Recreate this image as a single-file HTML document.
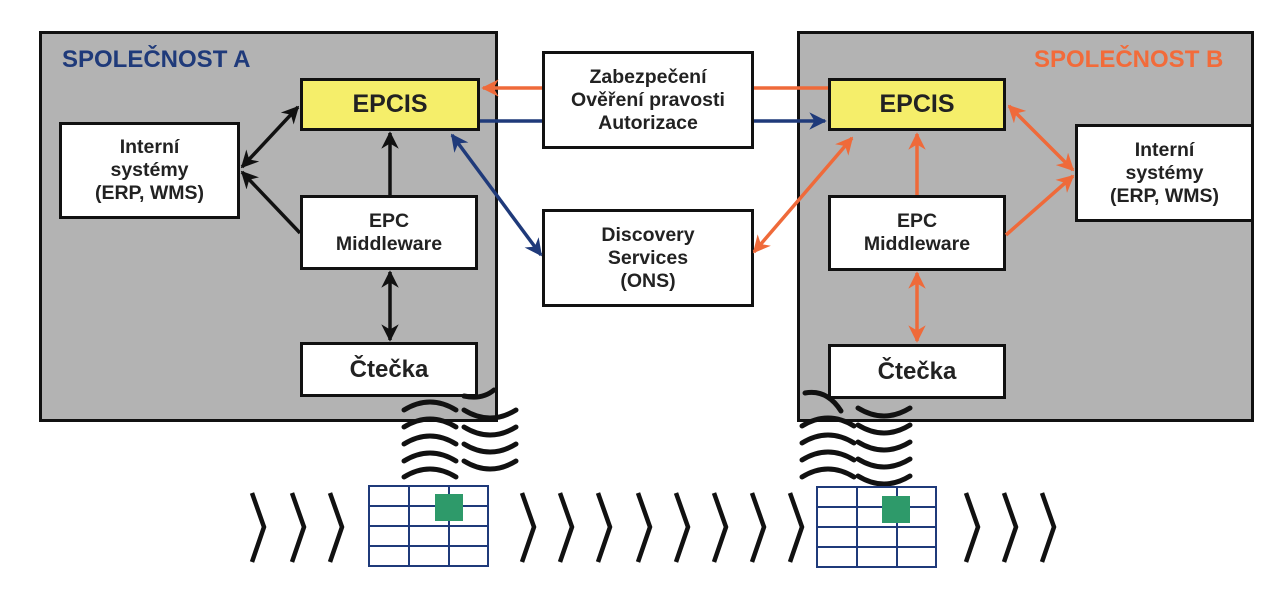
<!DOCTYPE html>
<html><head><meta charset="utf-8"><style>
body{margin:0;width:1280px;height:604px;background:#fff;overflow:hidden;position:relative;font-family:"Liberation Sans",sans-serif}
.co{position:absolute;background:#b3b3b3;border:3px solid #111;box-sizing:border-box}
.b{position:absolute;background:#fff;border:3px solid #111;box-sizing:border-box;display:flex;align-items:center;justify-content:center;text-align:center;font-weight:bold;color:#222;font-size:19.5px;line-height:23px}
.y{background:#f5ee6a;font-size:25px}
.t{position:absolute;font-weight:bold;font-size:24px}
svg{position:absolute;left:0;top:0}
</style></head><body>
<div class="co" style="left:39px;top:31px;width:459px;height:391px"></div>
<div class="co" style="left:797px;top:31px;width:457px;height:391px"></div>
<div class="t" style="left:62px;top:46px;color:#1f3a7a">SPOLEČNOST A</div>
<div class="t" style="left:1034px;top:46px;color:#f26b3a">SPOLEČNOST B</div>
<div class="b y" style="left:300px;top:78px;width:180px;height:53px">EPCIS</div>
<div class="b" style="left:59px;top:122px;width:181px;height:97px">Interní<br>systémy<br>(ERP, WMS)</div>
<div class="b" style="left:300px;top:195px;width:178px;height:75px">EPC<br>Middleware</div>
<div class="b" style="left:300px;top:342px;width:178px;height:55px;font-size:24px">Čtečka</div>
<div class="b" style="left:542px;top:51px;width:212px;height:98px">Zabezpečení<br>Ověření pravosti<br>Autorizace</div>
<div class="b" style="left:542px;top:209px;width:212px;height:98px">Discovery<br>Services<br>(ONS)</div>
<div class="b y" style="left:828px;top:78px;width:178px;height:53px">EPCIS</div>
<div class="b" style="left:1075px;top:124px;width:179px;height:98px">Interní<br>systémy<br>(ERP, WMS)</div>
<div class="b" style="left:828px;top:195px;width:178px;height:76px">EPC<br>Middleware</div>
<div class="b" style="left:828px;top:344px;width:178px;height:55px;font-size:24px">Čtečka</div>
<svg width="1280" height="604" viewBox="0 0 1280 604">
<defs>
<marker id="k" viewBox="0 0 10 10" refX="9" refY="5" markerWidth="5" markerHeight="5" orient="auto-start-reverse"><path d="M0,0L10,5L0,10L3,5z" fill="#111"/></marker>
<marker id="o" viewBox="0 0 10 10" refX="9" refY="5" markerWidth="5" markerHeight="5" orient="auto-start-reverse"><path d="M0,0L10,5L0,10L3,5z" fill="#ef6a3a"/></marker>
<marker id="n" viewBox="0 0 10 10" refX="9" refY="5" markerWidth="5" markerHeight="5" orient="auto-start-reverse"><path d="M0,0L10,5L0,10L3,5z" fill="#1f3a7a"/></marker>
</defs>
<g stroke="#111" stroke-width="3.5" fill="none">
<line x1="298" y1="107" x2="242" y2="167" marker-start="url(#k)" marker-end="url(#k)"/>
<line x1="300" y1="233" x2="242" y2="172" marker-end="url(#k)"/>
<line x1="390" y1="195" x2="390" y2="133" marker-end="url(#k)"/>
<line x1="390" y1="272" x2="390" y2="340" marker-start="url(#k)" marker-end="url(#k)"/>
</g>
<g stroke="#ef6a3a" stroke-width="3.5" fill="none">
<line x1="542" y1="88" x2="483" y2="88" marker-end="url(#o)"/>
<line x1="828" y1="88" x2="754" y2="88"/>
<line x1="754" y1="252" x2="852" y2="138" marker-start="url(#o)" marker-end="url(#o)"/>
<line x1="1009" y1="106" x2="1073" y2="170" marker-start="url(#o)" marker-end="url(#o)"/>
<line x1="1006" y1="235" x2="1073" y2="176" marker-end="url(#o)"/>
<line x1="917" y1="195" x2="917" y2="134" marker-end="url(#o)"/>
<line x1="917" y1="273" x2="917" y2="341" marker-start="url(#o)" marker-end="url(#o)"/>
</g>
<g stroke="#1f3a7a" stroke-width="3.5" fill="none">
<line x1="480" y1="121" x2="542" y2="121"/>
<line x1="754" y1="121" x2="825" y2="121" marker-end="url(#n)"/>
<line x1="452" y1="135" x2="541" y2="255" marker-start="url(#n)" marker-end="url(#n)"/>
</g>
<g stroke="#111" stroke-width="5" fill="none" stroke-linecap="round">
<path d="M404,410q26,-16 52,0M404,427q26,-16 52,0M404,444q26,-16 52,0M404,461q26,-16 52,0M404,477q26,-16 52,0"/>
<path d="M464,410q26,16 52,0M464,427q26,16 52,0M464,444q26,16 52,0M464,461q26,16 52,0M464,396q18,4 30,-6"/>
<path d="M802,426q26,-16 52,0M802,443q26,-16 52,0M802,460q26,-16 52,0M802,477q26,-16 52,0M805,393q22,-4 36,18"/>
<path d="M858,408q26,16 52,0M858,425q26,16 52,0M858,442q26,16 52,0M858,459q26,16 52,0M858,476q26,16 52,0"/>
</g>
<g stroke="#111" stroke-width="4.5" fill="none">
<path d="M252,493l12,34l-12,35M292,493l12,34l-12,35M330,493l12,34l-12,35M522,493l12,34l-12,35M560,493l12,34l-12,35M598,493l12,34l-12,35M638,493l12,34l-12,35M676,493l12,34l-12,35M714,493l12,34l-12,35M752,493l12,34l-12,35M790,493l12,34l-12,35M966,493l12,34l-12,35M1004,493l12,34l-12,35M1042,493l12,34l-12,35"/>
</g>
<g stroke="#1f3a7a" stroke-width="2" fill="#fff">
<rect x="369" y="486" width="119" height="80"/>
<path d="M409,486v80M449,486v80M369,506h119M369,526h119M369,546h119"/>
<rect x="817" y="487" width="119" height="80"/>
<path d="M857,487v80M897,487v80M817,507h119M817,527h119M817,547h119"/>
</g>
<rect x="435" y="494" width="28" height="27" fill="#2e9a6a"/>
<rect x="882" y="496" width="28" height="27" fill="#2e9a6a"/>
</svg>
</body></html>
